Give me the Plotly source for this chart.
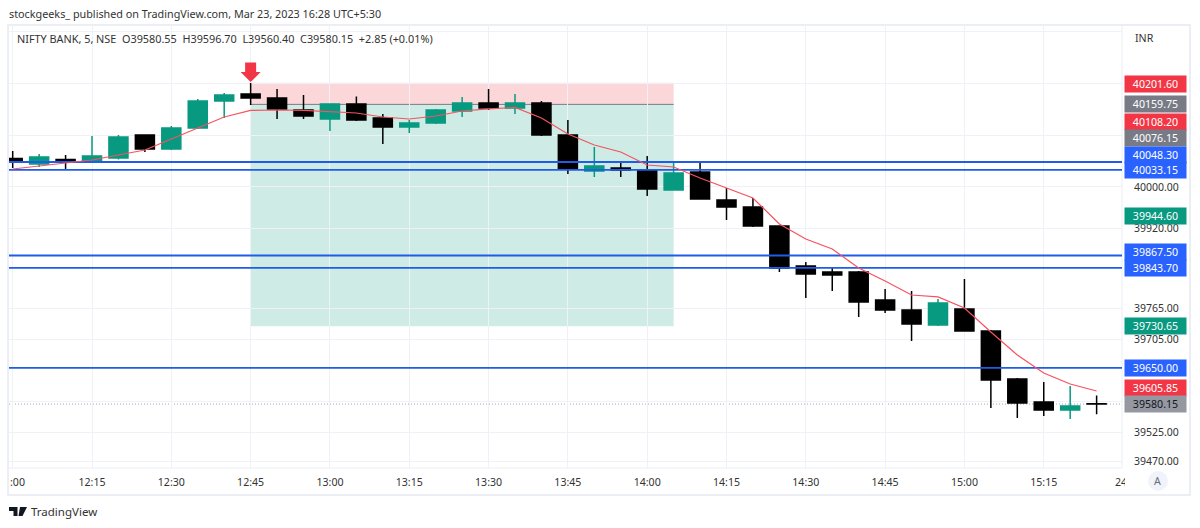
import plotly.graph_objects as go

times = ["12:00","12:05","12:10","12:15","12:20","12:25","12:30","12:35","12:40","12:45",
         "12:50","12:55","13:00","13:05","13:10","13:15","13:20","13:25","13:30","13:35",
         "13:40","13:45","13:50","13:55","14:00","14:05","14:10","14:15","14:20","14:25",
         "14:30","14:35","14:40","14:45","14:50","14:55","15:00","15:05","15:10","15:15",
         "15:20","15:25"]
opens = [40055.1,40044.5,40053.2,40050.3,40056.1,40100.6,40073.5,40114.1,40166.3,40179.9,
         40172.1,40148.9,40131.5,40160.5,40133.4,40116.0,40123.8,40147.0,40162.5,40152.8,
         40162.5,40100.6,40030.9,40036.7,40032.9,39994.2,40029.0,39974.9,39961.3,39924.6,
         39847.2,39835.6,39835.6,39781.5,39762.1,39733.1,39764.0,39721.5,39628.7,39584.2,
         39568.7,39580.55]
closes = [40050.3,40058.0,40050.3,40060.0,40096.7,40073.5,40114.1,40166.3,40177.9,40172.1,
          40150.9,40137.4,40160.5,40129.6,40116.0,40123.8,40148.9,40162.5,40152.8,40162.5,
          40100.6,40034.8,40040.6,40032.9,39996.1,40027.0,39976.8,39961.3,39924.6,39843.3,
          39831.7,39829.8,39777.6,39762.1,39735.0,39775.7,39721.5,39626.7,39582.3,39568.7,
          39576.5,39580.15]
highs = [40069.6,40063.8,40061.9,40098.6,40100.6,40100.6,40118.0,40170.2,40181.8,40201.0,
         40189.5,40177.9,40161.5,40175.0,40141.2,40129.6,40150.9,40174.0,40189.5,40179.9,
         40166.3,40129.6,40077.4,40048.4,40060.0,40046.4,40050.3,39998.1,39978.7,39924.6,
         39854.9,39845.3,39837.5,39802.7,39798.9,39783.4,39822.0,39723.4,39630.6,39622.9,
         39615.1,39596.7]
lows = [40036.7,40038.7,40034.8,40050.3,40053.2,40067.7,40071.6,40112.2,40133.4,40158.6,
        40131.5,40131.5,40108.3,40127.6,40083.2,40104.4,40121.8,40135.4,40148.9,40141.2,
        40098.6,40025.1,40019.3,40019.3,39982.6,39994.2,39976.8,39936.2,39922.6,39835.6,
        39785.3,39798.9,39748.6,39756.3,39702.2,39731.2,39721.5,39572.6,39553.2,39557.1,
        39551.3,39560.4]
sma = [40034.8,40040.6,40046.4,40052.2,40061.9,40071.6,40092.8,40114.1,40135.4,40148.0,
       40148.9,40148.0,40145.0,40143.1,40135.4,40131.5,40137.3,40147.0,40150.9,40153.8,
       40133.4,40102.5,40081.2,40067.7,40042.5,40038.7,40017.4,39998.1,39978.7,39928.4,
       39899.4,39880.1,39843.3,39818.2,39791.1,39787.3,39766.0,39719.6,39675.1,39640.3,
       39619.0,39605.5]

level_lines = [40048.30,40033.15,39867.50,39843.70,39650.00]
stop_price, entry_price, target_price = 40201.60, 40159.75, 39730.65
last_price = 39580.15

grid_prices = [40300,40200,40100,40000,39920,39845,39765,39705,39650,39585,39525,39470]
grid_labels = ["","","","40000.00","39920.00","","39765.00","39705.00","","","39525.00","39470.00"]
time_ticks = ["12:00","12:15","12:30","12:45","13:00","13:15","13:30","13:45","14:00","14:15","14:30","14:45","15:00","15:15"]
time_labels = ["","12:15","12:30","12:45","13:00","13:15","13:30","13:45","14:00","14:15","14:30","14:45","15:00","15:15"]

tag_prices = [40201.60,40159.75,40108.20,40076.15,40048.30,40033.15,39944.60,39867.50,39843.70,39730.65,39650.00,39605.85,39580.15]
tag_texts = ["40201.60","40159.75","40108.20","40076.15","40048.30","40033.15","39944.60","39867.50","39843.70","39730.65","39650.00","39605.85","39580.15"]
tag_colors = ["#f23645","#787b86","#f23645","#787b86","#2962ff","#2962ff","#089981","#2962ff","#2962ff","#089981","#2962ff","#f23645","#9598a1"]
tag_text_colors = ["#fff"]*12 + ["#131722"]
tag_shifts = [-1,0,9,9.6,7.5,0,0,3.5,0,0,0,3,0]

FONT = "Noto Sans"
W, H = 1200, 528
L, R, T, B = 9, 1122, 25, 468
X_RANGE = ["2023-03-23 11:59:18","2023-03-23 15:29:48"]
def d(t): return f"2023-03-23 {t}:00"
def px(v): return (v - L) / (R - L)
def py(v): return (B - v) / (B - T)

fig = go.Figure()
dates = [d(t) for t in times]
for lv in level_lines:
    fig.add_trace(go.Scatter(x=X_RANGE, y=[lv, lv], mode="lines", line=dict(color="#1f5ce8", width=1.8), showlegend=False, hoverinfo="skip"))
fig.add_trace(go.Scatter(x=dates, y=sma, mode="lines", line=dict(color="#f7525f", width=1.2), showlegend=False, hoverinfo="skip"))
fig.add_trace(go.Candlestick(x=dates, open=opens, high=highs, low=lows, close=closes, whiskerwidth=0,
    increasing=dict(line=dict(color="#089981", width=1.5), fillcolor="#089981"),
    decreasing=dict(line=dict(color="#000000", width=1.5), fillcolor="#000000"), showlegend=False))

shapes = []
pos_x0, pos_x1 = d("12:45"), d("14:05")
shapes.append(dict(type="rect", xref="x", yref="y", x0=pos_x0, x1=pos_x1, y0=entry_price, y1=stop_price, fillcolor="rgba(242,54,69,0.2)", line_width=0, layer="below"))
shapes.append(dict(type="rect", xref="x", yref="y", x0=pos_x0, x1=pos_x1, y0=target_price, y1=entry_price, fillcolor="rgba(8,153,129,0.2)", line_width=0, layer="below"))
shapes.append(dict(type="line", xref="x", yref="y", x0=pos_x0, x1=pos_x1, y0=entry_price, y1=entry_price, line=dict(color="#787b86", width=1), layer="below"))
shapes.append(dict(type="line", xref="paper", yref="y", x0=0, x1=1, y0=last_price, y1=last_price, line=dict(color="#a5a8b0", width=1, dash="1px,2px"), layer="below"))
# frame and axis separators
shapes.append(dict(type="rect", xref="paper", yref="paper", x0=px(8), x1=px(1190), y0=py(495), y1=py(25), line=dict(color="#eceef5", width=2), layer="below"))
shapes.append(dict(type="line", xref="paper", yref="paper", x0=px(1122), x1=px(1122), y0=py(468), y1=py(25), line=dict(color="#eceef5", width=1), layer="below"))
shapes.append(dict(type="line", xref="paper", yref="paper", x0=px(9), x1=px(1122), y0=py(468), y1=py(468), line=dict(color="#eceef5", width=1), layer="below"))
# signal arrow
shapes.append(dict(type="path", xref="x", yref="paper", xanchor=d("12:45"), yanchor=py(82), xsizemode="pixel", ysizemode="pixel",
    path="M 0 0 L -10 10 L -5.5 10 L -5.5 19.5 L 5.5 19.5 L 5.5 10 L 10 10 Z", fillcolor="#f23645", line_width=0))
# A badge
shapes.append(dict(type="circle", xref="paper", yref="paper", x0=px(1148), x1=px(1168), y0=py(491), y1=py(471), fillcolor="#f0f3fa", line_width=0))
# logo
shapes.append(dict(type="path", xref="paper", yref="paper", fillcolor="#131722", line_width=0,
    path=" ".join(f"{c} {px(a):.5f} {py(b):.5f}" for c,a,b in [("M",9,507),("L",17.5,507),("L",17.5,516),("L",13.5,516),("L",13.5,511),("L",9,511)])+" Z"))
shapes.append(dict(type="path", xref="paper", yref="paper", fillcolor="#131722", line_width=0,
    path=" ".join(f"{c} {px(a):.5f} {py(b):.5f}" for c,a,b in [("M",20,507),("L",27,507),("L",22.5,516),("L",18.5,516)])+" Z"))

ann = []
def text(x, y, s, size=11.5, color="#2a2e39", anchor="left", **kw):
    ann.append(dict(xref="paper", yref="paper", x=px(x), y=py(y), text=s, showarrow=False, xanchor=anchor, yanchor="middle",
                    font=dict(family=FONT, size=size, color=color), **kw))
text(7, 14, "stockgeeks_ published on TradingView.com, Mar 23, 2023 16:28 UTC+5:30", size=10.8, color="#333")
text(15, 39, "NIFTY BANK, 5, NSE\u00a0\u00a0O39580.55\u00a0\u00a0H39596.70\u00a0\u00a0L39560.40\u00a0\u00a0C39580.15\u00a0\u00a0+2.85 (+0.01%)", size=10.85, color="#333")
text(1133, 38, "INR", size=10.6, color="#333")
text(1158, 481, "A", size=10.6, color="#6a6d78", anchor="center")
text(8, 482, ":00", size=10.6, color="#333")
text(1113, 482, "24", size=10.6, color="#333", width=10, align="left")
text(29, 511, "TradingView", size=11.5, color="#333")
for p, s, c, tc, sh in zip(tag_prices, tag_texts, tag_colors, tag_text_colors, tag_shifts):
    ann.append(dict(xref="paper", yref="y", x=px(1155.5), y=p, yshift=sh, text=s, showarrow=False, xanchor="center", yanchor="middle",
                    width=61, height=16, bgcolor=c, borderpad=0, font=dict(family=FONT, size=10.6, color=tc)))

fig.update_layout(width=W, height=H, autosize=False, margin=dict(l=L, r=W-R, t=T, b=H-B), paper_bgcolor="#fff", plot_bgcolor="#fff",
    shapes=shapes, annotations=ann, boxgap=0.28, boxgroupgap=0, showlegend=False, font=dict(family=FONT, size=11, color="#333"),
    xaxis=dict(type="date", range=X_RANGE, rangeslider=dict(visible=False),
               tickmode="array", tickvals=[d(t) for t in time_ticks], ticktext=time_labels, showgrid=True, gridcolor="#eff1f6", gridwidth=1,
               zeroline=False, showline=False, ticks="", tickfont=dict(family=FONT, size=10.6, color="#333"), ticklabelstandoff=6),
    yaxis=dict(side="right", range=[39456.5,40313.3], tickmode="array", tickvals=grid_prices, ticktext=grid_labels, showgrid=True, gridcolor="#eff1f6",
               zeroline=False, showline=False, ticks="", tickfont=dict(family=FONT, size=10.5, color="#333"), ticklabelstandoff=11))
fig.write_html("out.html", config=dict(displayModeBar=False), post_script="document.body.style.margin='0';document.documentElement.style.overflow='hidden';")
